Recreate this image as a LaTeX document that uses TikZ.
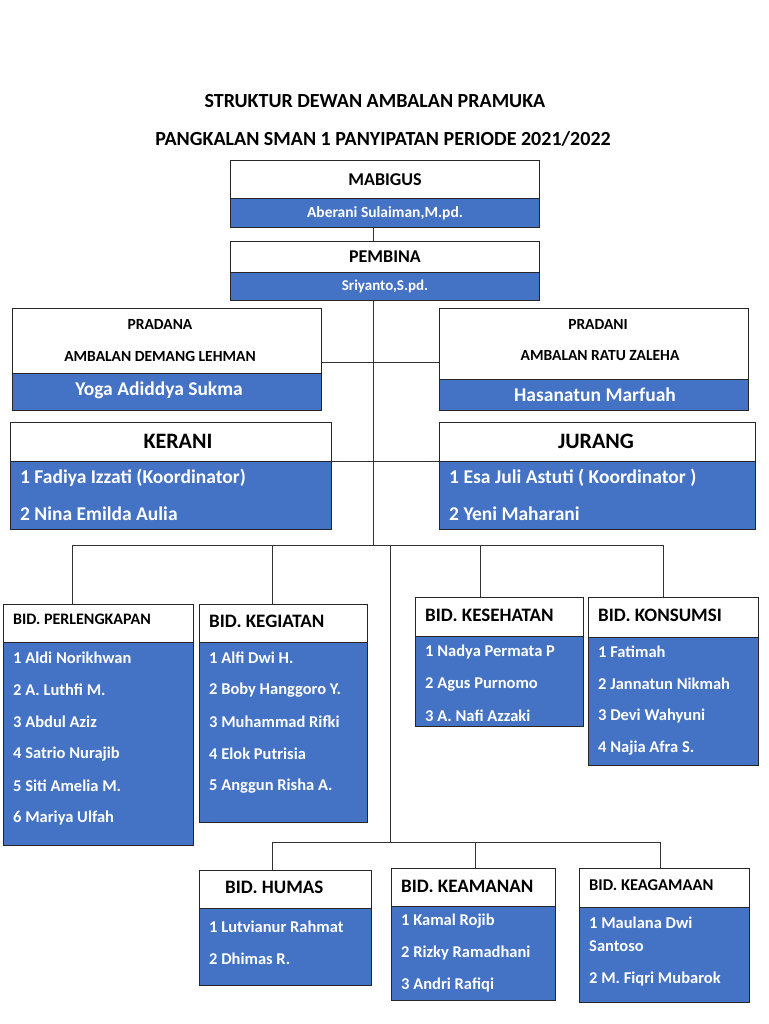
\documentclass[tikz,border=0pt]{standalone}
\usepackage{fontspec}
\setmainfont{Carlito}
\definecolor{bl}{HTML}{4472C4}
\tikzset{
 wb/.style={draw=black!85,line width=1pt,fill=white,inner sep=0pt},
 bb/.style={draw=black!85,line width=1pt,fill=bl,inner sep=0pt},
 ln/.style={draw=black!80,line width=0.8pt},
 tt/.style={font=\bfseries\fontsize{#1}{#1}\selectfont,inner sep=0pt},
 wt/.style={font=\bfseries\fontsize{#1}{#1}\selectfont,text=white,inner sep=0pt,anchor=west},
}
\newcommand{\bx}[6]{\node[#6,anchor=north west,minimum width={#4pt-#2pt},minimum height={#5pt-#3pt}] (#1) at (#2,#3) {};}
\begin{document}
\begin{tikzpicture}[x=1pt,y=-1pt]
\useasboundingbox (0,0) rectangle (768,1024);
\node[tt=20] (t1) at (375,101) {STRUKTUR DEWAN AMBALAN PRAMUKA};
\node[tt=20] (t2) at (383,139) {PANGKALAN SMAN 1 PANYIPATAN PERIODE 2021/2022};
\coordinate (j0) at (373,300);
\coordinate (j1) at (373,545);
\coordinate (j2) at (390,545);
\coordinate (j3) at (390,842);
\coordinate (h1) at (72,545);\coordinate (h2) at (272,545);\coordinate (h3) at (480,545);\coordinate (h4) at (663,545);
\coordinate (k1) at (272,842);\coordinate (k2) at (475,842);\coordinate (k3) at (660,842);
\coordinate (p1) at (321,362);\coordinate (p2) at (439,362);
\coordinate (q1) at (331,461);\coordinate (q2) at (439,461);
\draw[ln] (j0) -- (j1);
\draw[ln] (p1) -- (p2);
\draw[ln] (q1) -- (q2);
\draw[ln] (h1) -- (h4);
\draw[ln] (j2) -- (j3);
\draw[ln] (k1) -- (k3);
\draw[ln] (h1) -- (72,604);
\draw[ln] (h2) -- (272,604);
\draw[ln] (h3) -- (480,597);
\draw[ln] (h4) -- (663,597);
\draw[ln] (k1) -- (272,870);
\draw[ln] (k2) -- (475,868);
\draw[ln] (k3) -- (660,868);
\coordinate (m1) at (373,227);\coordinate (m2) at (373,241);
\draw[ln] (m1) -- (m2);
\bx{mabw}{230}{160}{539}{198}{wb}\bx{mabb}{230}{198}{539}{227}{bb}
\node[tt=18] at (mabw) {MABIGUS};
\node[tt=15.5,text=white] at (mabb) {Aberani Sulaiman,M.pd.};
\bx{pemw}{230}{241}{539}{272}{wb}\bx{pemb}{230}{272}{539}{300}{bb}
\node[tt=18] at (pemw) {PEMBINA};
\node[tt=15,text=white] at (pemb) {Sriyanto,S.pd.};
\bx{pdaw}{12}{308}{321}{373}{wb}\bx{pdab}{12}{373}{321}{410}{bb}
\node[tt=15.5] at (160,324) {PRADANA};
\node[tt=15.5] at (160,356) {AMBALAN DEMANG LEHMAN};
\node[tt=19.5,text=white] at (159,390) {Yoga Adiddya Sukma};
\bx{pdiw}{439}{308}{748}{379}{wb}\bx{pdib}{439}{379}{748}{410}{bb}
\node[tt=15.5] at (598,324) {PRADANI};
\node[tt=15.5] at (600,356) {AMBALAN RATU ZALEHA};
\node[tt=19.5,text=white] at (595,395) {Hasanatun Marfuah};
\bx{kerw}{10}{422}{331}{461}{wb}\bx{kerb}{10}{461}{331}{529}{bb}
\node[tt=22] at (178,441) {KERANI};
\node[wt=19.5] at (20,478) {1 Fadiya Izzati (Koordinator)};
\node[wt=19.5] at (20,514) {2 Nina Emilda Aulia};
\bx{jurw}{439}{422}{755}{461}{wb}\bx{jurb}{439}{461}{755}{529}{bb}
\node[tt=22] at (596,441) {JURANG};
\node[wt=19.5] at (449,478) {1 Esa Juli Astuti ( Koordinator )};
\node[wt=19.5] at (449,514) {2 Yeni Maharani};
\bx{perw}{3}{604}{193}{642}{wb}\bx{perb}{3}{642}{193}{845}{bb}
\node[tt=16,anchor=west] at (13,619) {BID. PERLENGKAPAN};
\foreach \t [count=\i] in {1 Aldi Norikhwan,2 A. Luthfi M.,3 Abdul Aziz,4 Satrio Nurajib,5 Siti Amelia M.,6 Mariya Ulfah}
 \node[wt=16.5] at (13,626+\i*32) {\t};
\bx{kegw}{199}{604}{367}{642}{wb}\bx{kegb}{199}{642}{367}{822}{bb}
\node[tt=19,anchor=west] at (209,621) {BID. KEGIATAN};
\foreach \t [count=\i] in {1 Alfi Dwi H.,2 Boby Hanggoro Y.,3 Muhammad Rifki,4 Elok Putrisia,5 Anggun Risha A.}
 \node[wt=16.5] at (209,626+\i*32) {\t};
\bx{kesw}{415}{597}{583}{636}{wb}\bx{kesb}{415}{636}{583}{726}{bb}
\node[tt=19,anchor=west] at (425,615) {BID. KESEHATAN};
\foreach \t [count=\i] in {1 Nadya Permata P,2 Agus Purnomo,3 A. Nafi Azzaki}
 \node[wt=16.5] at (425,620+\i*32) {\t};
\bx{konw}{588}{597}{758}{637}{wb}\bx{konb}{588}{637}{758}{765}{bb}
\node[tt=19,anchor=west] at (598,615) {BID. KONSUMSI};
\foreach \t [count=\i] in {1 Fatimah,2 Jannatun Nikmah,3 Devi Wahyuni,4 Najia Afra S.}
 \node[wt=16.5] at (598,620+\i*32) {\t};
\bx{humw}{199}{870}{371}{908}{wb}\bx{humb}{199}{908}{371}{985}{bb}
\node[tt=19,anchor=west] at (225,887) {BID. HUMAS};
\foreach \t [count=\i] in {1 Lutvianur Rahmat,2 Dhimas R.}
 \node[wt=16.5] at (209,895+\i*32) {\t};
\bx{keaw}{391}{868}{555}{906}{wb}\bx{keab}{391}{906}{555}{1000}{bb}
\node[tt=19,anchor=west] at (401,886) {BID. KEAMANAN};
\foreach \t [count=\i] in {1 Kamal Rojib,2 Rizky Ramadhani,3 Andri Rafiqi}
 \node[wt=16.5] at (401,889+\i*32) {\t};
\bx{kgaw}{579}{868}{749}{907}{wb}\bx{kgab}{579}{907}{749}{1002}{bb}
\node[tt=16.5,anchor=west] at (589,885) {BID. KEAGAMAAN};
\node[wt=16.5] at (589,923) {1 Maulana Dwi};
\node[wt=16.5] at (589,946) {Santoso};
\node[wt=16.5] at (589,979) {2 M. Fiqri Mubarok};
\end{tikzpicture}
\end{document}
